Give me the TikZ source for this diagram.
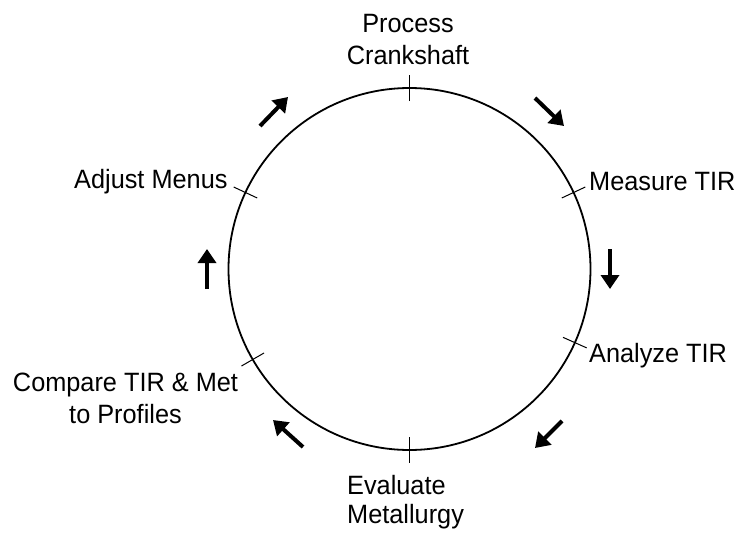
\documentclass[tikz,border=0pt]{standalone}
\usepackage{fontspec}
\setmainfont{Liberation Sans}[FakeStretch=0.955]
\usetikzlibrary{arrows.meta,calc}
\begin{document}
\begin{tikzpicture}[x=1pt,y=-1pt,
  lbl/.style={inner sep=0pt, font=\fontsize{26.5}{31.5}\selectfont},
  ring/.style={line width=1.8pt},
  tickmark/.style={line width=1pt},
  flow/.style={line width=4pt, -{Triangle[width=18pt,length=14pt]}}]
\useasboundingbox (0,0) rectangle (750,541);
\coordinate (c) at (409.5,269);
\draw[ring] (c) circle[radius=181];
% ticks
\foreach \a in {90,25,-24,-90,210,155}{
  \draw[tickmark] ($(c)+(\a:168 and -168)$) -- ($(c)+(\a:194 and -194)$);
}
% labels
\node[lbl, anchor=base, align=center] (proc) at (408,64) {Process\\Crankshaft};
\node[lbl, anchor=base west] (meas) at (589,190) {Measure TIR};
\node[lbl, anchor=base west] (anal) at (589,362) {Analyze TIR};
\node[lbl, anchor=base, align=center] (comp) at (125.5,423) {Compare TIR \& Met\\to Profiles};
\node[lbl, anchor=base west, align=left, font=\fontsize{26.5}{28.5}\selectfont] (eval) at (347,523.3) {Evaluate\\Metallurgy};
\node[lbl, anchor=base west] (adj) at (74,188) {Adjust Menus};
% arrows
\coordinate (a1s) at (260,126); \coordinate (a1e) at (288,97);
\coordinate (a2s) at (535,98);  \coordinate (a2e) at (564,126);
\coordinate (a3s) at (610,249); \coordinate (a3e) at (610,289);
\coordinate (a4s) at (562,421); \coordinate (a4e) at (535,448);
\coordinate (a5s) at (303,447); \coordinate (a5e) at (273,420);
\coordinate (a6s) at (207,289); \coordinate (a6e) at (207,249);
\foreach \i in {1,...,6}{\draw[flow] (a\i s) -- (a\i e);}
\end{tikzpicture}
\end{document}
